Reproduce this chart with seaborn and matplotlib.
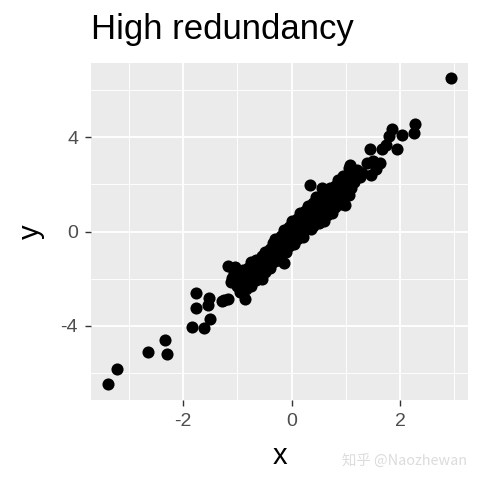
import numpy as np
import pandas as pd
import matplotlib
matplotlib.use("Agg")
import matplotlib.pyplot as plt
import seaborn as sns

# lower tail
tail_x = [-3.39, -3.22, -2.64, -2.33, -2.30, -1.83, -1.62, -1.51, -1.77, -1.76,
          -1.55, -1.53, -1.29, -1.17, -0.87, -1.25, -1.17, -1.04, -1.10, -1.06,
          -1.12, -1.00, -0.95, -0.90, -0.92, -0.15, -0.27]
tail_y = [-6.48, -5.82, -5.12, -4.61, -5.21, -4.06, -4.08, -3.72, -2.60, -3.26,
          -3.10, -2.84, -2.94, -2.87, -2.85, -2.91, -1.46, -1.49, -1.99, -1.77,
          -2.13, -2.30, -2.55, -2.20, -1.80, -1.35, -1.21]

# dense core
core_x = [-0.90, -0.90, -0.85, -0.85, -0.80, -0.80, -0.75, -0.75, -0.75,
          -0.70, -0.70, -0.65, -0.65, -0.65, -0.60, -0.60, -0.55, -0.55, -0.55,
          -0.50, -0.50, -0.50, -0.45, -0.45, -0.40, -0.40, -0.40,
          -0.35, -0.35, -0.35, -0.30, -0.30, -0.30, -0.25, -0.25, -0.25,
          -0.20, -0.20, -0.20, -0.15, -0.15, -0.15, -0.10, -0.10, -0.10,
          -0.05, -0.05, -0.05, 0.00, 0.00, 0.00, 0.05, 0.05, 0.05,
          0.10, 0.10, 0.10, 0.15, 0.15, 0.15, 0.20, 0.20, 0.20,
          0.25, 0.25, 0.25, 0.30, 0.30, 0.30, 0.35, 0.35, 0.35,
          0.40, 0.40, 0.40, 0.45, 0.45, 0.45, 0.50, 0.50, 0.50,
          0.55, 0.55, 0.55, 0.60, 0.60, 0.60, 0.65, 0.65, 0.65,
          0.70, 0.70, 0.70, 0.75, 0.75, 0.75, 0.80, 0.80, 0.80,
          0.85, 0.85, 0.85, 0.90, 0.90, 0.90, 0.95, 0.95, 0.95,
          1.00, 1.00, 1.05, 1.05, 1.05, 1.10, 1.10, 1.15, 1.15]
core_y = [-2.10, -1.65, -2.45, -1.90, -1.55, -2.15, -2.30, -1.75, -1.30,
          -1.95, -1.50, -2.05, -1.60, -1.20, -1.80, -1.35, -1.55, -1.05, -2.00,
          -1.25, -0.85, -1.70, -1.45, -1.00, -1.20, -0.75, -1.55,
          -0.95, -0.50, -1.30, -0.70, -1.10, -0.30, -0.85, -0.45, -1.20,
          -0.60, -0.20, -0.95, -0.75, -0.35, 0.05, -0.50, -0.10, -0.85,
          -0.25, 0.20, -0.60, -0.40, 0.05, 0.45, -0.15, 0.30, -0.55,
          0.10, 0.55, -0.30, -0.10, 0.35, 0.80, 0.15, 0.60, -0.25,
          0.40, 0.85, 0.05, 0.20, 0.65, 1.10, 0.45, 0.90, 0.10,
          0.25, 0.70, 1.20, 0.50, 0.95, 1.45, 0.35, 0.80, 1.25,
          0.60, 1.05, 1.50, 0.45, 0.90, 1.35, 0.70, 1.15, 1.60,
          0.95, 1.40, 1.85, 0.80, 1.25, 1.70, 1.05, 1.50, 1.95,
          1.30, 1.75, 2.20, 1.15, 1.60, 2.05, 1.45, 1.90, 2.35,
          1.70, 2.15, 1.55, 2.00, 2.45, 1.85, 2.30, 2.10, 2.55]

# upper tail
upper_x = [0.33, 0.55, 0.98, 1.07, 1.06, 1.15, 1.20, 1.25, 1.30, 1.38,
           1.44, 1.47, 1.50, 1.55, 1.63, 1.66, 1.74, 1.80, 1.85, 1.94,
           2.03, 2.25, 2.28, 2.93]
upper_y = [1.99, 1.85, 1.14, 2.84, 2.70, 2.45, 2.60, 2.30, 2.50, 2.91,
           3.48, 2.41, 3.00, 2.65, 2.91, 3.48, 3.69, 4.04, 4.33, 3.48,
           4.11, 4.19, 4.58, 6.50]

df = pd.DataFrame({"x": tail_x + core_x + upper_x,
                   "y": tail_y + core_y + upper_y})

sns.set_theme(style="darkgrid")
plt.rcParams["font.family"] = ["Liberation Sans", "DejaVu Sans"]
plt.rcParams["axes.unicode_minus"] = False

fig = plt.figure(figsize=(4.8, 4.8), dpi=100)
ax = fig.add_axes([91/480, 1 - 400/480, (468 - 91)/480, (400 - 63)/480])
ax.set_facecolor("#EBEBEB")

sns.scatterplot(data=df, x="x", y="y", ax=ax, color="black", s=76,
                linewidth=0, legend=False, zorder=3)

ax.set_xlim(-3.70, 3.25)
ax.set_ylim(-7.15, 7.15)
ax.set_xticks([-2, 0, 2])
ax.set_yticks([-4, 0, 4])
ax.set_xticks([-3, -1, 1, 3], minor=True)
ax.set_yticks([-6, -2, 2, 6], minor=True)
ax.grid(which="major", color="white", linewidth=1.3)
ax.grid(which="minor", color="white", linewidth=0.65)
ax.set_axisbelow(True)
for sp in ax.spines.values():
    sp.set_visible(False)
ax.tick_params(which="major", length=4.3, width=1.0, color="#333333",
               labelsize=14, labelcolor="#4D4D4D", pad=5,
               bottom=True, left=True)
ax.tick_params(which="minor", length=0, bottom=False, left=False)

ax.set_xlabel("x", fontsize=21, color="black", labelpad=9)
ax.set_ylabel("y", fontsize=21, color="black", labelpad=11)
fig.text(91/480, 1 - 39/480, "High redundancy", fontsize=25, color="black",
         ha="left", va="baseline")
fig.text(467/480, 1 - 465/480, "知乎 @Naozhewan", fontsize=10.4, color="#DCDCDC",
         ha="right", va="baseline", family=["Noto Sans CJK SC", "DejaVu Sans"])

fig.savefig("out.png", dpi=100)
